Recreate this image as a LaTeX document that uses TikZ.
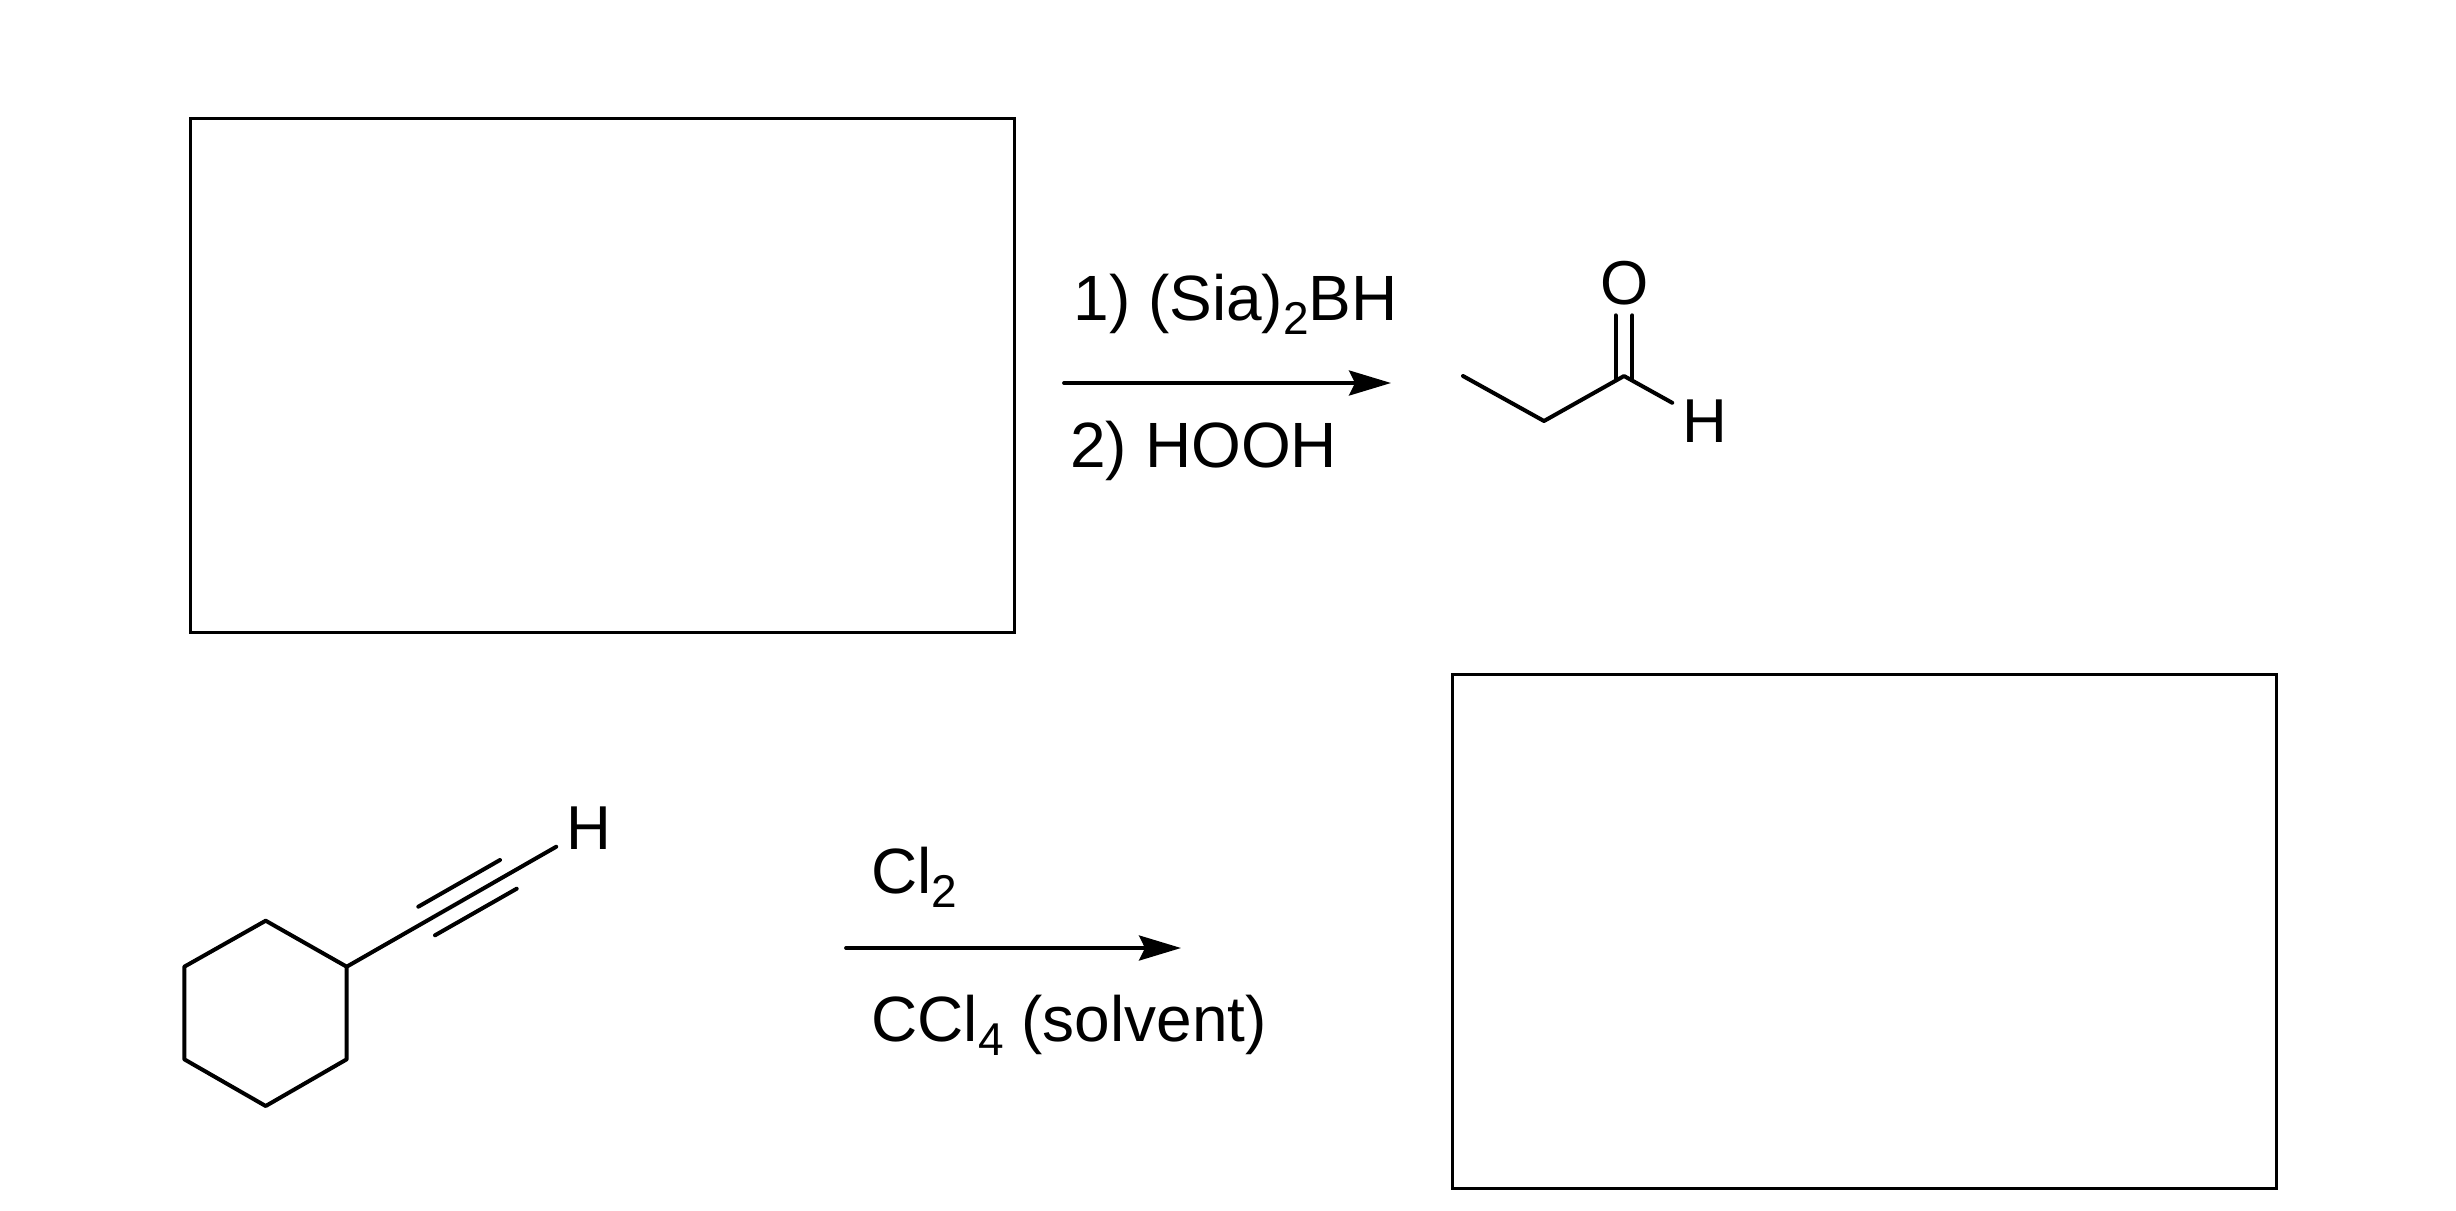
\documentclass[tikz,border=0pt]{standalone}
\usepackage{fontspec}
\setmainfont{Liberation Sans}
\usetikzlibrary{arrows.meta,calc,positioning}

\newcommand{\subnum}[1]{\raisebox{-7pt}{\fontsize{23}{23}\selectfont #1}}

\tikzset{
    bond/.style={line width=2pt, line cap=round, line join=round},
    answerbox/.style={draw, line width=1.9pt, minimum width=412pt, minimum height=257pt, inner sep=0pt, outer sep=0pt},
    reagent/.style={anchor=base west, inner sep=0pt, font=\fontsize{32}{32}\selectfont},
    atom/.style={inner sep=5pt, font=\fontsize{31}{31}\selectfont},
    rxn/.style={->, line width=1.9pt, line cap=round}
}

\begin{document}
\begin{tikzpicture}[x=0.5pt, y=-0.5pt, >={Stealth[length=21pt,width=12.5pt,inset=3pt]}]
    \useasboundingbox (0,0) rectangle (2456,1210);

    \node[answerbox]  (topbox)    at (602.5,375.5)  {};
    \node[answerbox]  (lowbox)    at (1864.5,931.5) {};

    % reaction arrows
    \coordinate (topstart) at (1064,383);
    \coordinate (topend)   at (1391,383);
    \coordinate (lowstart) at (846,948);
    \coordinate (lowend)   at (1181,948);
    \draw[rxn] (topstart) -- (topend);
    \draw[rxn] (lowstart) -- (lowend);

    \node[reagent]    (sia)       at (1073,320)     {1) (Sia)\subnum{2}BH};
    \node[reagent]    (hooh)      at (1070,467)     {2) HOOH};
    \node[reagent]    (cltwo)     at (871,893)      {Cl\subnum{2}};
    \node[reagent]    (ccl)       at (871,1041)     {CCl\subnum{4} (solvent)};

    % propanal
    \coordinate (ch3)  at (1463,376);
    \coordinate (ch2)  at (1544,421);
    \coordinate (cho)  at (1624,376);
    \node[atom]       (oxy)       at (1625,283)     {O};
    \node[atom]       (aldh)      at (1705,421)     {H};
    \draw[bond] (ch3) -- (ch2) -- (cho) -- (aldh);
    \draw[bond] ([xshift=-4.2pt]cho |- oxy.south) -- ([xshift=-4.2pt,yshift=-2pt]cho);
    \draw[bond] ([xshift=4.2pt]cho |- oxy.south) -- ([xshift=4.2pt,yshift=-2pt]cho);

    % cyclohexyl ring with the alkyne
    \coordinate (r1) at (265.7,920.7);
    \coordinate (r2) at (346.7,966.7);
    \coordinate (r3) at (346.7,1059.3);
    \coordinate (r4) at (265.7,1106);
    \coordinate (r5) at (184.3,1059.3);
    \coordinate (r6) at (184.3,966.7);
    \coordinate (upa)  at (418.3,906.7);
    \coordinate (upb)  at (500,860);
    \coordinate (loa)  at (435,935.3);
    \coordinate (lob)  at (516.7,888.7);
    \node[atom]       (termh)     at (589,828)      {H};
    \draw[bond] (r1) -- (r2) -- (r3) -- (r4) -- (r5) -- (r6) -- cycle;
    \draw[bond] (r2) -- (termh);
    \draw[bond] (upa) -- (upb);
    \draw[bond] (loa) -- (lob);
\end{tikzpicture}
\end{document}
